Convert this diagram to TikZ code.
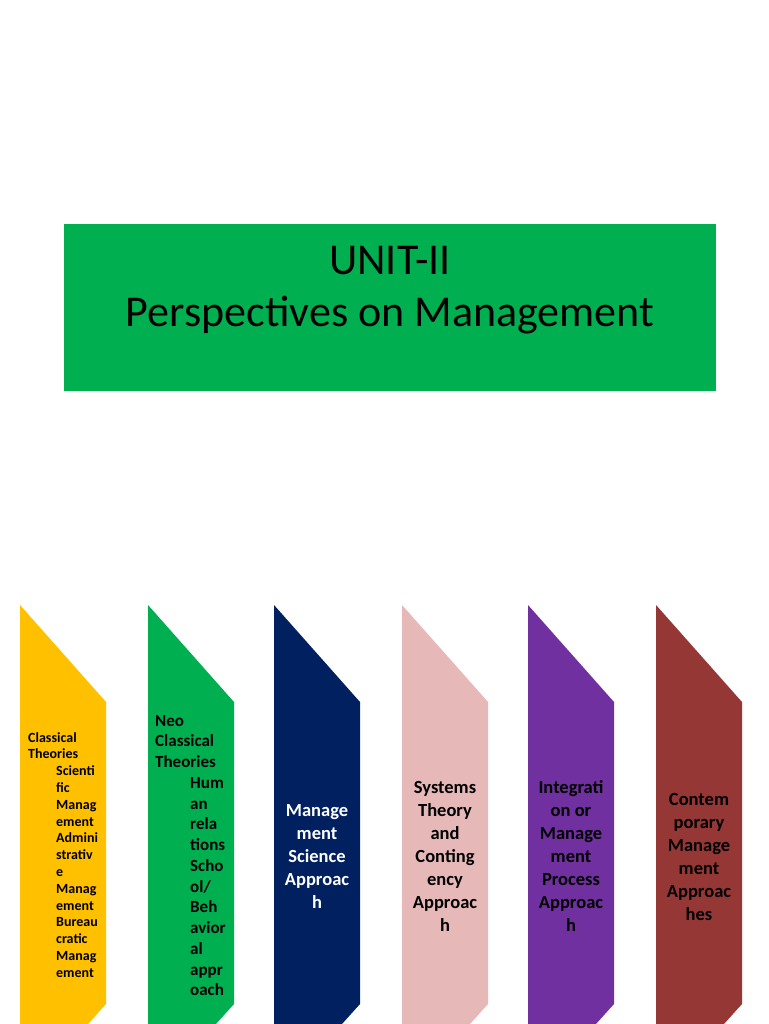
\documentclass[tikz,border=0pt]{standalone}
\usepackage{fontspec}
\setmainfont{Carlito}
\definecolor{cyellow}{HTML}{FFC000}
\definecolor{cgreen}{HTML}{00B050}
\definecolor{cnavy}{HTML}{002060}
\definecolor{cpink}{HTML}{E6B9B8}
\definecolor{cpurple}{HTML}{7030A0}
\definecolor{cbrown}{HTML}{953735}
\begin{document}
\begin{tikzpicture}[x=1pt,y=-1pt,
  lbl/.style={inner sep=0pt,font=\bfseries},
  big/.style={font=\bfseries\fontsize{18.5}{23}\selectfont},
  ttl/.style={inner sep=0pt,align=center,font=\fontsize{44}{52}\selectfont}]
\useasboundingbox (0,0) rectangle (768,1024);
\fill[white] (0,0) rectangle (768,1024);
% title box
\node[fill=cgreen,minimum width=652pt,minimum height=167pt,inner sep=0pt,anchor=north west] (title) at (64,224) {};
\node[ttl] (titletext) at (390,290) {UNIT-II\\Perspectives on Management};
% chevrons
\foreach \L/\c [count=\i] in {20/cyellow,148/cgreen,274/cnavy,402/cpink,528/cpurple,656/cbrown}{
  \fill[\c] (\L,605) -- (\L+86,702) -- (\L+86,1004) -- (\L+68,1024) -- (\L,1024) -- cycle;
}
% texts
\node[lbl,anchor=north west,align=left,font=\bfseries\fontsize{14}{16.8}\selectfont] (t1) at (28,732)
 {Classical\\Theories\\
  \hspace*{28pt}Scienti\\\hspace*{28pt}fic\\\hspace*{28pt}Manag\\\hspace*{28pt}ement\\
  \hspace*{28pt}Admini\\\hspace*{28pt}strativ\\\hspace*{28pt}e\\\hspace*{28pt}Manag\\\hspace*{28pt}ement\\
  \hspace*{28pt}Bureau\\\hspace*{28pt}cratic\\\hspace*{28pt}Manag\\\hspace*{28pt}ement};
\node[lbl,anchor=north west,align=left,font=\bfseries\fontsize{17}{20.75}\selectfont] (t2) at (155,715)
 {Neo\\Classical\\Theories\\
  \hspace*{35pt}Hum\\\hspace*{35pt}an\\\hspace*{35pt}rela\\\hspace*{35pt}tions\\
  \hspace*{35pt}Scho\\\hspace*{35pt}ol/\\\hspace*{35pt}Beh\\\hspace*{35pt}avior\\
  \hspace*{35pt}al\\\hspace*{35pt}appr\\\hspace*{35pt}oach};
\node[lbl,big,align=center,text=white] (t3) at (317,856)
 {Manage\\ment\\Science\\Approac\\h};
\node[lbl,big,align=center] (t4) at (445,856)
 {Systems\\Theory\\and\\Conting\\ency\\Approac\\h};
\node[lbl,big,align=center] (t5) at (571,856)
 {Integrati\\on or\\Manage\\ment\\Process\\Approac\\h};
\node[lbl,big,align=center] (t6) at (699,857)
 {Contem\\porary\\Manage\\ment\\Approac\\hes};
\end{tikzpicture}
\end{document}
